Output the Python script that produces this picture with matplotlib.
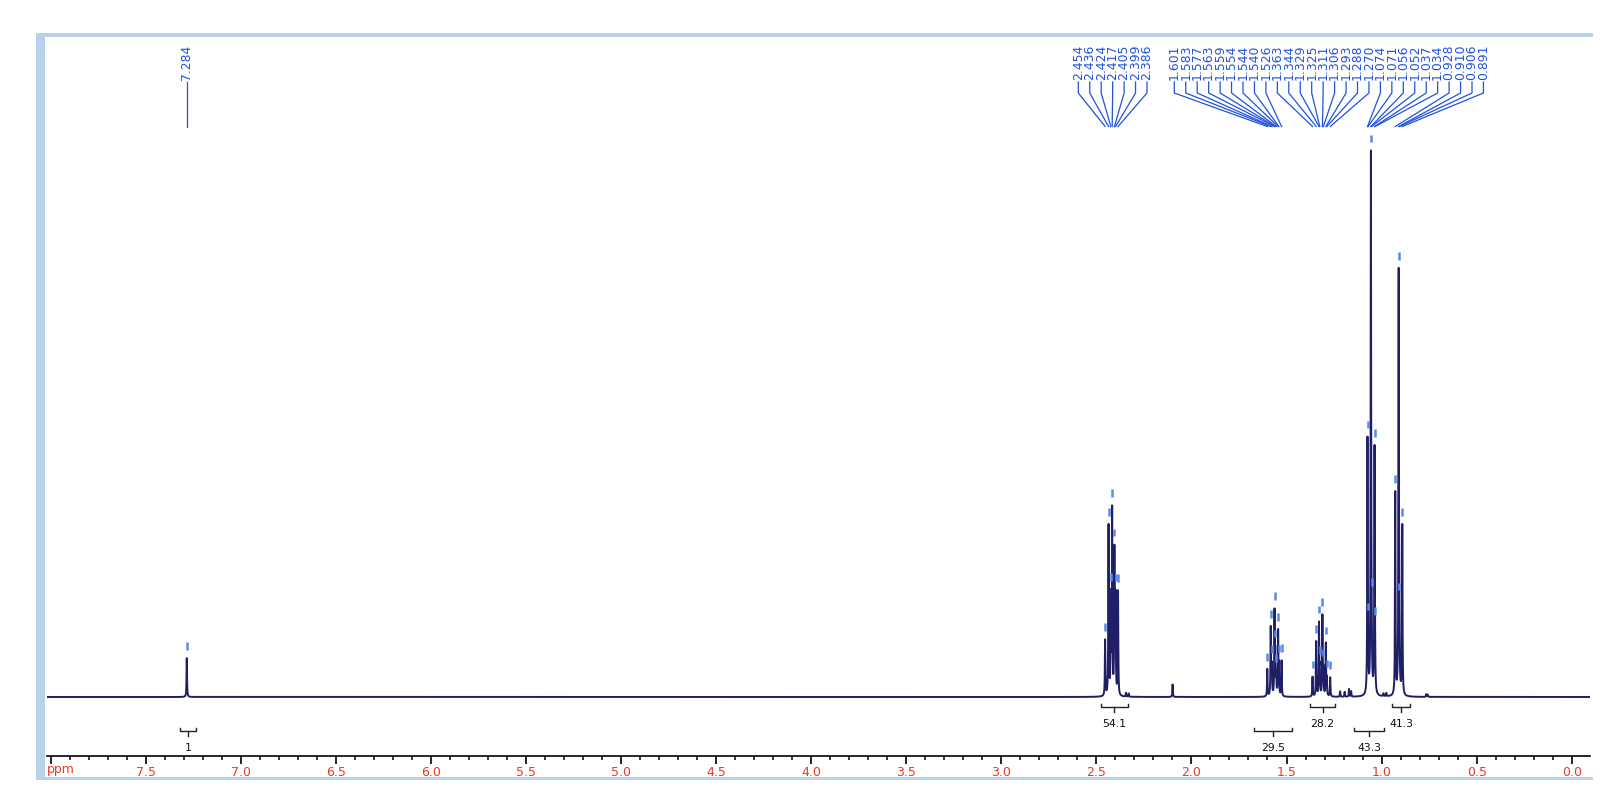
"""
1H NMR spectrum — peak list, integrals, ppm axis (reversed)
"""
import numpy as np
import matplotlib
matplotlib.use("Agg")
import matplotlib.pyplot as plt
from matplotlib.patches import Rectangle
from matplotlib.transforms import blended_transform_factory

# ── data ─────────────────────────────────────────────────────────
# spectral lines (ppm, relative height, tallest = 100)
line_ppm = [7.284,
            2.454, 2.436, 2.424, 2.417, 2.405, 2.399, 2.386, 2.344, 2.330,
            2.099,
            1.601, 1.583, 1.577, 1.563, 1.559, 1.554, 1.544, 1.540, 1.526,
            1.363, 1.344, 1.329, 1.325, 1.311, 1.306, 1.293, 1.288, 1.270,
            1.218, 1.194, 1.171, 1.160,
            1.074, 1.071, 1.056, 1.052, 1.037, 1.034,
            0.990, 0.975,
            0.928, 0.910, 0.906, 0.891,
            0.765, 0.757]
line_height = [7.1,
               10.2, 31.0, 17.5, 33.5, 26.0, 17.5, 19.0, 0.7, 0.6,
               2.3,
               5.0, 12.5, 5.5, 15.0, 7.0, 3.5, 11.5, 5.0, 6.5,
               3.6, 10.0, 13.0, 4.5, 14.5, 4.5, 9.5, 3.0, 3.5,
               1.0, 0.9, 1.4, 1.0,
               46.0, 4.0, 98.5, 6.0, 44.5, 4.0,
               0.5, 0.6,
               37.0, 77.0, 8.0, 31.0,
               0.5, 0.4]

# picked peaks, as labelled at the top (one list per label group)
label_groups = [
    [7.284],
    [2.454, 2.436, 2.424, 2.417, 2.405, 2.399, 2.386],
    [1.601, 1.583, 1.577, 1.563, 1.559, 1.554, 1.544, 1.540, 1.526,
     1.363, 1.344, 1.329, 1.325, 1.311, 1.306, 1.293, 1.288, 1.270,
     1.074, 1.071, 1.056, 1.052, 1.037, 1.034,
     0.928, 0.910, 0.906, 0.891],
]

# integrals: (from ppm, to ppm, value, row)
int_from  = [7.320, 2.478, 1.673, 1.374, 1.146, 0.944]
int_to    = [7.237, 2.334, 1.471, 1.247, 0.986, 0.852]
int_value = ["1", "54.1", "29.5", "28.2", "43.3", "41.3"]
int_row   = [1, 0, 1, 0, 1, 0]

major_ticks = np.arange(0.0, 8.01, 0.5)
minor_ticks = np.arange(0.0, 8.01, 0.1)

# ── layout ───────────────────────────────────────────────────────
W, H = 1612, 802
BASE_PX = 697        # baseline row in pixels
AX_BOT_PX, AX_TOP_PX = 756, 35
AX_L_PX, AX_R_PX = 46.7, 1590
PX_PER_UNIT = 5.47
HWHM = 0.0015

LINE_C  = "#1f1f66"
LABEL_C = "#2052dc"
MARK_C  = "#5a8ae8"
TICK_C  = "#e6392a"
FRAME_C = "#bad1ea"


def spectrum(x):
    x = np.asarray(x, dtype=float)[:, None]
    p = np.array(line_ppm)[None, :]
    h = np.array(line_height)[None, :]
    return (h / (1 + ((x - p) / HWHM) ** 2)).sum(axis=1)


fig = plt.figure(figsize=(W / 100, H / 100), dpi=100)
fig.patch.set_facecolor("white")

ax = fig.add_axes([AX_L_PX / W, 1 - AX_BOT_PX / H,
                   (AX_R_PX - AX_L_PX) / W, (AX_BOT_PX - AX_TOP_PX) / H])
ax.set_facecolor("none")

# ppm <-> pixels: 190.13 px per ppm, 0.0 at x = 1571.7
ppm_left = (1571.7 - AX_L_PX) / 190.13
ppm_right = (1571.7 - AX_R_PX) / 190.13
ax.set_xlim(ppm_left, ppm_right)
ax.set_ylim(-(AX_BOT_PX - BASE_PX) / PX_PER_UNIT, (BASE_PX - AX_TOP_PX) / PX_PER_UNIT)

# spectrum trace
grid = np.union1d(np.arange(ppm_right, ppm_left, 0.0003), line_ppm)
ax.plot(grid, spectrum(grid), color=LINE_C, lw=1.4, solid_joinstyle="round")

# x axis
for s in ["top", "right", "left"]:
    ax.spines[s].set_visible(False)
ax.spines["bottom"].set_linewidth(1.2)
ax.set_yticks([])
ax.set_xticks(major_ticks)
ax.set_xticks(minor_ticks, minor=True)
ax.set_xticklabels(["" if t > 7.9 else f"{t:.1f}" for t in major_ticks])
ax.tick_params(axis="x", which="major", length=6, width=1.2, pad=1.5,
               labelsize=9, labelcolor=TICK_C)
ax.tick_params(axis="x", which="minor", length=3, width=1.1)
trans_xf = blended_transform_factory(ax.transData, fig.transFigure)
ax.text(ppm_left, 1 - 769 / H, "ppm", transform=trans_xf, ha="left", va="center",
        fontsize=9, color=TICK_C)


def fy(px):
    return 1 - px / H


def px2ppm(px):
    return (1571.7 - px) / 190.13


# peak markers and labels
label_start_px = [None, 1078.3, 1174.3]
label_step_px = 11.45
for g, peaks in enumerate(label_groups):
    for i, p in enumerate(peaks):
        v = spectrum([p])[0]
        ax.plot([p, p], [v + 1.5, v + 2.9], color=MARK_C, lw=1.8, solid_capstyle="butt")
        lx = p if label_start_px[g] is None else px2ppm(label_start_px[g] + i * label_step_px)
        ax.plot([lx, lx, p], [fy(82), fy(93), fy(126.5)], color=LABEL_C, lw=0.9,
                transform=trans_xf, clip_on=False)
        ax.text(lx, fy(80.5), f"{p:.3f}", rotation=90, ha="center", va="bottom",
                transform=trans_xf, fontsize=8.9, color=LABEL_C)

# integral brackets
for a, b, val, row in zip(int_from, int_to, int_value, int_row):
    yb = 707.3 + 24 * row
    mid = (a + b) / 2
    ax.plot([a, a, b, b], [fy(yb - 3), fy(yb), fy(yb), fy(yb - 3)], color="#222",
            lw=1.0, transform=trans_xf, clip_on=False)
    ax.plot([mid, mid], [fy(yb), fy(yb + 5)], color="#222", lw=1.0,
            transform=trans_xf, clip_on=False)
    ax.text(mid, fy(yb + 16.5), val, ha="center", va="center", transform=trans_xf,
            fontsize=7.8, color="#111")

# light blue frame
fig.patches.append(Rectangle((36 / W, fy(36.7)), (1593 - 36) / W, 3.4 / H,
                             transform=fig.transFigure, color=FRAME_C, lw=0))
fig.patches.append(Rectangle((36 / W, fy(780)), 8.5 / W, (780 - 33) / H,
                             transform=fig.transFigure, color=FRAME_C, lw=0))
fig.patches.append(Rectangle((36 / W, fy(780)), (1593 - 36) / W, 3.5 / H,
                             transform=fig.transFigure, color=FRAME_C, lw=0))

fig.savefig("out.png", dpi=100)
